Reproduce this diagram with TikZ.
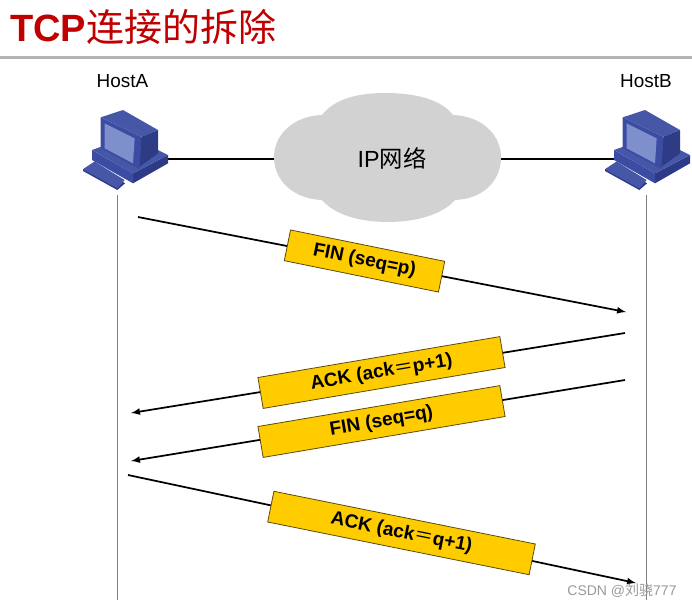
\documentclass[tikz,border=0pt]{standalone}
\usepackage{fontspec}
\setmainfont{Liberation Sans}
\newfontfamily\cjk{Noto Sans CJK SC}
\definecolor{titlered}{HTML}{C00000}
\definecolor{packetyellow}{HTML}{FFCC00}
\definecolor{packetedge}{HTML}{5A4A10}
\definecolor{cloudgray}{HTML}{D2D2D2}
\definecolor{ruleline}{HTML}{B4B4B4}
\definecolor{lifeline}{HTML}{808080}
\definecolor{pcdark}{HTML}{2C3A88}
\definecolor{pcframe}{HTML}{3C4CA2}
\definecolor{pcmid}{HTML}{4757A8}
\definecolor{pcside}{HTML}{2E3C86}
\definecolor{pcscreen}{HTML}{7F8FCB}
\tikzset{
	pics/computer/.style={code={
		\begin{scope}[x=0.25pt,y=-0.25pt]
			\fill[fill=pcdark] (39,328) -- (39,333) -- (142,390) -- (165,370) -- (74,305) -- cycle;
			\fill[fill=pcmid] (39,328) -- (74,305) -- (164,360) -- (142,385) -- cycle;
			\fill[fill=pcdark] (189,340) -- (294,285) -- (294,310) -- (189,370) -- cycle;
			\fill[fill=pcframe] (66,270) -- (189,340) -- (189,370) -- (66,300) -- cycle;
			\fill[fill=pcmid] (66,270) -- (94,260) -- (264,270) -- (294,285) -- (189,340) -- cycle;
			\fill[fill=pcframe] (92,172) -- (214,230) -- (209,328) -- (92,265) -- cycle;
			\fill[fill=pcmid] (92,172) -- (159,150) -- (264,210) -- (214,230) -- cycle;
			\fill[fill=pcside] (214,230) -- (264,210) -- (264,280) -- (209,320) -- cycle;
			\fill[fill=pcscreen] (104,190) -- (194,235) -- (189,310) -- (104,265) -- cycle;
		\end{scope}
	}}
}
\begin{document}
\begin{tikzpicture}[x=0.75pt,y=-0.75pt]
	\tikzstyle{Packet} = [draw=packetedge, line width=0.6pt, fill=packetyellow, minimum height=23.5pt, inner sep=0pt, font=\bfseries\fontsize{14.3}{16}\selectfont]
	\tikzstyle{Host} = [font=\fontsize{14.2}{16}\selectfont]
	\tikzstyle{Message} = [-latex, line width=1.3pt]
	\useasboundingbox (0,0) rectangle (692,608);
	\node (title) at (10,27) [anchor=west, inner sep=0pt, text=titlered, font=\fontsize{28.5}{30}\selectfont] {\textbf{TCP}{\cjk 连接的拆除}};
	\coordinate (ruleL) at (0,57.5);
	\coordinate (ruleR) at (692,57.5);
	\draw [ruleline, line width=1.6pt] (ruleL) to (ruleR);
	\node (hostA) at (122.5,81) [Host] {HostA};
	\node (hostB) at (646,81) [Host] {HostB};
	\coordinate (portA) at (168,159);
	\coordinate (portB) at (614,159);
	\fill [cloudgray] (322,115) .. controls (335,98) and (360,93) .. (385,93)
		.. controls (412,93) and (440,98) .. (453,115)
		.. controls (482,116) and (501,135) .. (501,157)
		.. controls (501,182) and (482,199) .. (455,200)
		.. controls (442,215) and (415,222) .. (388,222)
		.. controls (360,222) and (335,215) .. (322,200)
		.. controls (295,199) and (274,182) .. (274,157)
		.. controls (274,135) and (293,116) .. (322,115) -- cycle;
	\node (IP) at (387.5,159) [minimum width=169.5pt, minimum height=90pt, inner sep=0pt] {};
	\node (IPtext) at (392,158) [font=\fontsize{17.5}{19}\selectfont] {IP{\cjk 网络}};
	\draw [line width=0.9pt] (portA) to (IP);
	\draw [line width=0.9pt] (IP) to (portB);
	\pic at (70,60) {computer};
	\pic at (592,60) {computer};
	\coordinate (topA) at (117,195);
	\coordinate (endA) at (117,600);
	\coordinate (topB) at (646,195);
	\coordinate (endB) at (646,600);
	\draw [lifeline] (topA) to (endA);
	\draw [lifeline] (topB) to (endB);
	\coordinate (a1) at (138,217);
	\coordinate (b1) at (626,312);
	\coordinate (b2) at (625,333);
	\coordinate (a2) at (131,413);
	\coordinate (b3) at (625,380);
	\coordinate (a3) at (131,461);
	\coordinate (a4) at (128,475);
	\coordinate (b4) at (636,583);
	\draw [Message] (a1) to (b1);
	\draw [Message] (b2) to (a2);
	\draw [Message] (b3) to (a3);
	\draw [Message] (a4) to (b4);
	\node (fin1) at (364.5,261) [Packet, minimum width=118pt, rotate=-11.5] {FIN (seq=p)};
	\node (ack1) at (381.5,372.5) [Packet, minimum width=184pt, rotate=9.6] {ACK (ack{\cjk\mdseries ＝}p+1)};
	\node (fin2) at (381.5,421.5) [Packet, minimum width=184pt, rotate=9.6] {FIN (seq=q)};
	\node (ack2) at (401.5,533) [Packet, minimum width=200pt, rotate=-11.4] {ACK (ack{\cjk\mdseries ＝}q+1)};
	\node (mark) at (622,591) [text=gray!80, font=\fontsize{10.5}{12}\selectfont] {CSDN @{\cjk 刘骁}777};
\end{tikzpicture}
\end{document}
